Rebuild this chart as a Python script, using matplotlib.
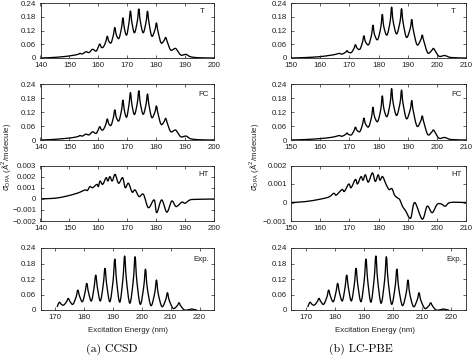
import matplotlib
matplotlib.use("Agg")
import matplotlib.pyplot as plt
from matplotlib.path import Path
from matplotlib.patches import PathPatch

plt.rcParams['font.family'] = ['Liberation Sans', 'DejaVu Sans']
plt.rcParams['mathtext.fontset'] = 'dejavusans'

# ---------------- data ----------------
# (a) CCSD, total (T)
ccsd_t_x = [140.0, 144.0, 148.0, 151.0, 153.0, 153.6, 154.5, 155.7, 156.8, 158.0, 159.2, 159.9,
            160.5, 161.1, 161.8, 162.6, 163.1, 163.6, 164.4, 165.2, 165.7, 166.2, 167.1, 168.0,
            168.5, 169.0, 169.8, 170.6, 171.1, 171.6, 172.5, 173.5, 174.0, 174.5, 175.5, 176.5,
            177.0, 177.5, 178.5, 179.6, 180.1, 180.6, 181.7, 182.8, 183.3, 183.8, 185.0, 186.2,
            186.7, 187.2, 188.5, 189.8, 190.3, 190.8, 192.0, 195.0, 200.0]
ccsd_t_y = [0.0, 0.002, 0.006, 0.011, 0.016, 0.020, 0.018, 0.027, 0.024, 0.038, 0.030, 0.045,
            0.061, 0.046, 0.049, 0.072, 0.095, 0.074, 0.066, 0.100, 0.133, 0.102, 0.085, 0.130,
            0.175, 0.130, 0.100, 0.155, 0.205, 0.155, 0.110, 0.162, 0.214, 0.162, 0.110, 0.157,
            0.204, 0.155, 0.095, 0.124, 0.153, 0.118, 0.066, 0.078, 0.090, 0.072, 0.035, 0.040,
            0.042, 0.035, 0.013, 0.015, 0.016, 0.013, 0.005, 0.001, 0.0]
# (a) CCSD, Franck-Condon (FC)
ccsd_fc_x = ccsd_t_x
ccsd_fc_y = [0.0, 0.002, 0.006, 0.010, 0.015, 0.019, 0.017, 0.025, 0.022, 0.035, 0.028, 0.042,
             0.057, 0.043, 0.046, 0.068, 0.090, 0.070, 0.063, 0.096, 0.129, 0.098, 0.082, 0.126,
             0.171, 0.127, 0.098, 0.152, 0.203, 0.153, 0.109, 0.160, 0.211, 0.160, 0.110, 0.153,
             0.197, 0.151, 0.096, 0.121, 0.146, 0.115, 0.067, 0.080, 0.093, 0.074, 0.036, 0.041,
             0.043, 0.036, 0.014, 0.016, 0.017, 0.014, 0.005, 0.001, 0.0]
# (a) CCSD, Herzberg-Teller (HT)
ccsd_ht_x = [140.0, 145.0, 149.0, 152.0, 153.7, 155.4, 156.2, 157.1, 158.0, 159.5, 160.0, 160.6,
             161.5, 162.7, 163.3, 164.0, 164.8, 165.8, 167.0, 168.4, 169.3, 170.4, 171.7, 172.7,
             174.1, 175.6, 177.3, 179.3, 180.2, 181.9, 183.7, 185.4, 186.9, 188.9, 190.0, 191.7,
             194.0, 200.0]
ccsd_ht_y = [0.0, 0.00005, 0.00024, 0.00045, 0.0006, 0.0008, 0.00075, 0.0011, 0.001, 0.0013,
             0.0011, 0.0016, 0.0013, 0.0019, 0.0016, 0.002, 0.0016, 0.0022, 0.0014, 0.0019, 0.001,
             0.0014, 0.0006, 0.0008, 0.0002, 0.0004, -0.0008, -0.0001, -0.00125, -0.0001, -0.0012,
             -0.0002, -0.0007, -0.0003, -0.0004, -0.0001, -0.00005, -0.00002]

# (b) LC-PBE, total (T)
lcpbe_t_x = [150.0, 155.0, 160.0, 163.0, 165.0, 166.5, 167.5, 168.8, 169.2, 169.7, 170.7, 171.6,
             172.1, 172.6, 173.6, 174.5, 175.0, 175.5, 176.6, 177.6, 178.1, 178.6, 179.7, 180.8,
             181.3, 181.8, 182.9, 184.0, 184.5, 185.0, 186.2, 187.4, 187.9, 188.4, 189.6, 190.9,
             191.4, 191.9, 193.2, 194.5, 195.0, 195.5, 196.9, 198.3, 198.8, 199.3, 200.7, 202.2,
             202.7, 203.2, 205.0, 210.0]
lcpbe_t_y = [0.0, 0.002, 0.006, 0.011, 0.015, 0.020, 0.017, 0.026, 0.032, 0.025, 0.024, 0.042,
             0.058, 0.044, 0.038, 0.068, 0.097, 0.072, 0.058, 0.100, 0.143, 0.104, 0.080, 0.135,
             0.190, 0.138, 0.100, 0.160, 0.222, 0.162, 0.105, 0.160, 0.215, 0.158, 0.090, 0.130,
             0.168, 0.125, 0.058, 0.080, 0.100, 0.076, 0.022, 0.034, 0.042, 0.034, 0.008, 0.010,
             0.011, 0.009, 0.002, 0.0]
# (b) LC-PBE, FC
lcpbe_fc_x = lcpbe_t_x
lcpbe_fc_y = [0.0, 0.002, 0.006, 0.010, 0.014, 0.019, 0.016, 0.025, 0.030, 0.024, 0.022, 0.040,
              0.055, 0.042, 0.036, 0.066, 0.094, 0.070, 0.056, 0.098, 0.140, 0.102, 0.079, 0.133,
              0.189, 0.137, 0.100, 0.159, 0.220, 0.161, 0.105, 0.160, 0.214, 0.158, 0.091, 0.131,
              0.169, 0.126, 0.059, 0.082, 0.103, 0.078, 0.023, 0.035, 0.043, 0.035, 0.008, 0.010,
              0.011, 0.009, 0.002, 0.0]
# (b) LC-PBE, HT
lcpbe_ht_x = [150.0, 155.0, 160.0, 163.0, 164.7, 165.5, 167.5, 168.3, 169.8, 170.6, 172.1, 172.8,
              174.0, 174.7, 175.5, 176.5, 177.9, 178.9, 179.9, 180.5, 181.4, 182.6, 183.6, 184.6,
              185.5, 186.4, 187.3, 188.2, 189.3, 191.0, 192.4, 195.0, 196.7, 198.4, 200.1, 201.5,
              202.9, 204.6, 210.0]
lcpbe_ht_y = [0.0, 0.00005, 0.00018, 0.0003, 0.0005, 0.0004, 0.0007, 0.0006, 0.001, 0.0008,
              0.00125, 0.001, 0.0014, 0.0012, 0.0015, 0.0011, 0.0016, 0.00114, 0.0015, 0.0012,
              0.0014, 0.00098, 0.0007, 0.00075, 0.0004, 0.00026, 0.00015, -0.0002, -0.00045,
              -0.00085, 0.0, -0.0009, -0.0002, -0.00055, -0.0001, -0.00008, -0.0002, 0.0, 0.0]

# Experiment
exp_x = [170.8, 171.5, 172.2, 173.0, 174.0, 174.6, 175.2, 176.2, 177.3, 177.9, 178.5, 179.5,
         180.4, 181.0, 181.6, 182.6, 183.5, 184.1, 184.7, 185.7, 186.7, 187.3, 187.9, 189.0,
         190.1, 190.7, 191.3, 192.4, 193.5, 194.1, 194.7, 195.9, 197.1, 197.7, 198.3, 199.5,
         200.7, 201.3, 201.9, 203.2, 204.5, 205.1, 205.7, 207.0, 208.3, 208.9, 209.5, 210.9,
         212.3, 212.9, 213.5, 214.8, 216.6, 217.3, 218.0, 219.0]
exp_y = [0.013, 0.030, 0.022, 0.019, 0.032, 0.045, 0.033, 0.022, 0.050, 0.077, 0.054, 0.032,
         0.068, 0.103, 0.068, 0.035, 0.085, 0.135, 0.085, 0.035, 0.098, 0.161, 0.098, 0.032,
         0.114, 0.197, 0.114, 0.030, 0.120, 0.209, 0.118, 0.026, 0.116, 0.206, 0.114, 0.022,
         0.090, 0.158, 0.088, 0.017, 0.066, 0.116, 0.064, 0.013, 0.040, 0.067, 0.038, 0.006,
         0.017, 0.028, 0.016, 0.0, 0.002, 0.004, 0.002, 0.0]

spec_ticks = [0, 0.06, 0.12, 0.18, 0.24]
spec_labels = ['0', '0.06', '0.12', '0.18', '0.24']
ht_a_ticks = [-0.002, -0.001, 0, 0.001, 0.002, 0.003]
ht_a_labels = ['\u22120.002', '\u22120.001', '0', '0.001', '0.002', '0.003']
ht_b_ticks = [-0.001, 0, 0.001, 0.002]
ht_b_labels = ['\u22120.001', '0', '0.001', '0.002']
xt_a = [140, 150, 160, 170, 180, 190, 200]
xt_b = [150, 160, 170, 180, 190, 200, 210]
xt_exp = [170, 180, 190, 200, 210, 220]

panel_names = ['T', 'FC', 'HT', 'Exp.']
captions = ['(a) CCSD', '(b) LC-PBE']
xlabel = 'Excitation Energy (nm)'
ylabel = r'$\sigma_{\mathrm{OPA}}$ (Å$^2$/molecule)'

# ---------------- layout ----------------
W, H = 474, 356
fig = plt.figure(figsize=(W / 100, H / 100), dpi=100)
FS = 5.7
INK = '#222222'

cols = [(40.5, 214.0), (291.0, 466.0)]
rows = [(3.0, 58.0), (84.0, 140.0), (165.5, 221.0), (248.0, 310.0)]


def add_ax(col, row):
    x0, x1 = cols[col]
    yt, yb = rows[row]
    return fig.add_axes([x0 / W, 1 - yb / H, (x1 - x0) / W, (yb - yt) / H])


def smooth_line(ax, xs, ys, **kw):
    """Draw the data points joined by a smooth curve (Catmull-Rom as Bezier path)."""
    pts = list(zip(xs, ys))
    n = len(pts)
    verts = [pts[0]]
    codes = [Path.MOVETO]
    for i in range(n - 1):
        p0 = pts[i - 1] if i > 0 else pts[i]
        p1 = pts[i]
        p2 = pts[i + 1]
        p3 = pts[i + 2] if i + 2 < n else pts[i + 1]
        c1 = (p1[0] + (p2[0] - p0[0]) / 6.0, p1[1] + (p2[1] - p0[1]) / 6.0)
        c2 = (p2[0] - (p3[0] - p1[0]) / 6.0, p2[1] - (p3[1] - p1[1]) / 6.0)
        verts += [c1, c2, p2]
        codes += [Path.CURVE4] * 3
    patch = PathPatch(Path(verts, codes), fill=False, transform=ax.transData, **kw)
    ax.add_patch(patch)


def style(ax, xlim, xticks, ylim, yticks, ylabels):
    ax.set_xlim(*xlim)
    ax.set_xticks(xticks)
    ax.set_xticklabels([str(t) for t in xticks])
    ax.set_ylim(*ylim)
    ax.set_yticks(yticks)
    ax.set_yticklabels(ylabels)
    ax.tick_params(direction='in', length=2.4, width=0.5, top=True, right=True,
                   labelsize=FS, pad=3.0, colors=INK)
    for s in ax.spines.values():
        s.set_linewidth(0.6)
        s.set_color(INK)


datasets = [
    [(ccsd_t_x, ccsd_t_y), (ccsd_fc_x, ccsd_fc_y), (ccsd_ht_x, ccsd_ht_y), (exp_x, exp_y)],
    [(lcpbe_t_x, lcpbe_t_y), (lcpbe_fc_x, lcpbe_fc_y), (lcpbe_ht_x, lcpbe_ht_y), (exp_x, exp_y)],
]
xranges = [(140, 200), (150, 210)]
xtick_sets = [xt_a, xt_b]
ht_ylims = [(-0.002, 0.003), (-0.001, 0.002)]
ht_ticks = [(ht_a_ticks, ht_a_labels), (ht_b_ticks, ht_b_labels)]
label_offsets = [
    [(-9, -8.7), (-5, -10), (-5, -9.5), (-4.5, -11.3)],
    [(-10, -8.7), (-4, -10), (-4, -9.5), (-4, -11.3)],
]

for c in range(2):
    for r in range(4):
        ax = add_ax(c, r)
        xs, ys = datasets[c][r]
        smooth_line(ax, xs, ys, edgecolor='black', lw=0.95, capstyle='round', joinstyle='round')
        if r < 2:
            style(ax, xranges[c], xtick_sets[c], (0, 0.24), spec_ticks, spec_labels)
        elif r == 2:
            style(ax, xranges[c], xtick_sets[c], ht_ylims[c], ht_ticks[c][0], ht_ticks[c][1])
        else:
            style(ax, (165, 225), xt_exp, (0, 0.24), spec_ticks, spec_labels)
        ox, oy = label_offsets[c][r]
        ax.annotate(panel_names[r], xy=(1, 1), xycoords='axes fraction',
                    xytext=(ox, oy), textcoords='offset pixels',
                    ha='right', va='center', fontsize=FS, color=INK)

# axis labels
fig.text(127.5 / W, 1 - 330.7 / H, xlabel, ha='center', va='center', fontsize=FS, color=INK)
fig.text(375.0 / W, 1 - 330.7 / H, xlabel, ha='center', va='center', fontsize=FS, color=INK)
fig.text(7.0 / W, 1 - 157.0 / H, ylabel, ha='center', va='center', rotation=90,
         fontsize=FS, color=INK)
fig.text(254.5 / W, 1 - 157.0 / H, ylabel, ha='center', va='center', rotation=90,
         fontsize=FS, color=INK)

# captions
fig.text(111.5 / W, 1 - 349.5 / H, captions[0], ha='center', va='center',
         fontsize=8.5, family='cmr10')
fig.text(360.5 / W, 1 - 349.5 / H, captions[1], ha='center', va='center',
         fontsize=8.5, family='cmr10')

fig.savefig('out.png', dpi=100)
